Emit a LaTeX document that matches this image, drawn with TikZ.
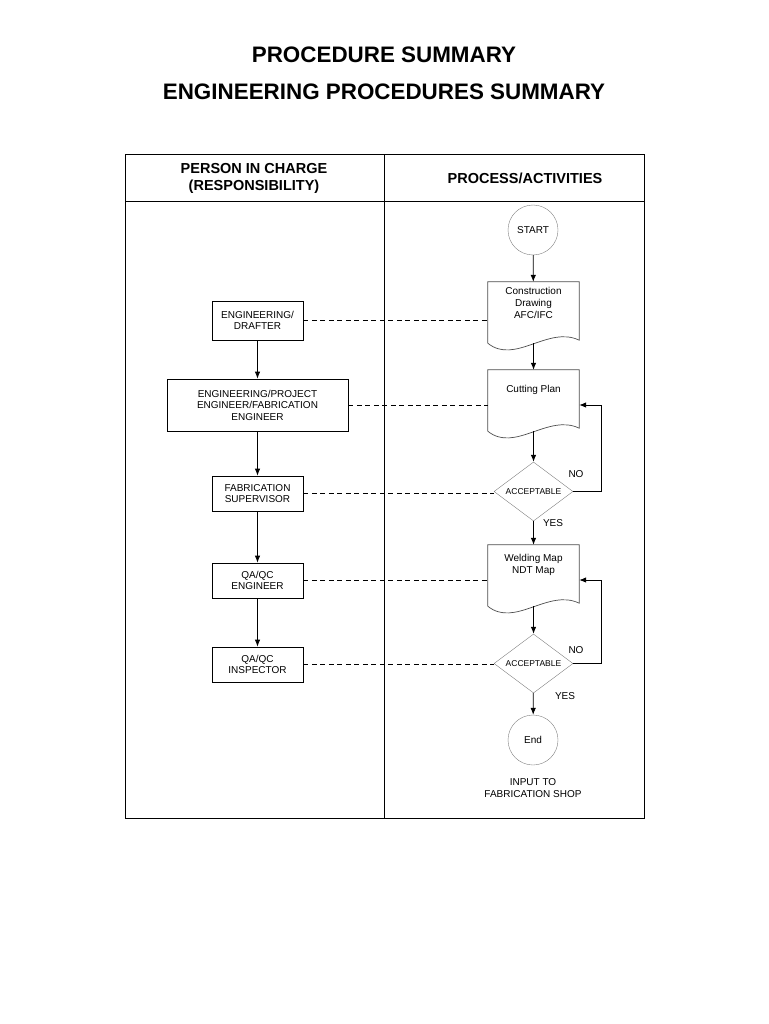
\documentclass[tikz,border=0pt]{standalone}
\usepackage{fontspec}
\setmainfont{Liberation Sans}
\usetikzlibrary{shapes.geometric,calc,arrows.meta}
\begin{document}
\begin{tikzpicture}[x=1pt,y=-1pt,>={Latex[length=7pt,width=5.5pt]},
        box/.style={draw,line width=.8pt,align=center,font=\fontsize{10}{11.5}\selectfont,minimum width=91,minimum height=35,inner sep=2pt},
        circ/.style={draw=black!50,circle,minimum size=50,inner sep=0,font=\fontsize{10}{12}\selectfont},
        docnode/.style={minimum width=91,minimum height=61,inner sep=0},
        doctext/.style={align=center,font=\fontsize{10}{12}\selectfont,inner sep=0},
        check/.style={draw=black!50,diamond,aspect=1.3,minimum width=79,minimum height=59,inner sep=0,font=\fontsize{8.5}{10}\selectfont},
        small/.style={font=\fontsize{10}{12}\selectfont,inner sep=0},
        link/.style={dash pattern=on 5pt off 3.5pt,line width=.7pt}]
        \useasboundingbox (0,0) rectangle (768,1024);

        \node[font=\bfseries\fontsize{22.4}{27}\selectfont] (title1) at (384,55) {PROCEDURE SUMMARY};
        \node[font=\bfseries\fontsize{22.4}{27}\selectfont] (title2) at (384,92) {ENGINEERING PROCEDURES SUMMARY};

        \draw[line width=1pt] (125,155) rectangle (644,818);
        \draw[line width=1pt] (125,202) -- (644,202) (384,155) -- (384,818);
        \node[align=center,font=\bfseries\fontsize{14.5}{17}\selectfont] (hperson) at (254,178) {PERSON IN CHARGE\\(RESPONSIBILITY)};
        \node[font=\bfseries\fontsize{14.5}{17}\selectfont] (hprocess) at (525,178) {PROCESS/ACTIVITIES};

        % person in charge
        \node[box,minimum height=39] (drafter) at (257.5,320.5) {ENGINEERING/\\DRAFTER};
        \node[box,minimum width=181,minimum height=52] (projeng) at (257.5,405) {ENGINEERING/PROJECT\\ENGINEER/FABRICATION\\ENGINEER};
        \node[box] (supervisor) at (257.5,493.5) {FABRICATION\\SUPERVISOR};
        \node[box] (qaeng) at (257.5,580.5) {QA/QC\\ENGINEER};
        \node[box] (qainsp) at (257.5,664.5) {QA/QC\\INSPECTOR};
        \foreach \a/\b in {drafter/projeng,projeng/supervisor,supervisor/qaeng,qaeng/qainsp}
            \draw[->,line width=.8pt] (\a) -- (\b);

        % process
        \node[circ] (start) at (533,230) {START};
        \node[docnode] (cdraw) at (533.5,312.5) {};
        \node[docnode] (cplan) at (533.5,400.5) {};
        \node[docnode] (wmap) at (533.5,575.5) {};
        \foreach \d in {cdraw,cplan,wmap}
            \draw[black!70,line width=.7pt] (\d.south west) -- (\d.north west) -- (\d.north east) -- ($(\d.south east)+(0,-3)$)
                .. controls ($(\d.south east)+(-31,-18)$) and ($(\d.south west)+(27,22)$) .. (\d.south west);
        \node[doctext] (cdrawt) at (533.5,303) {Construction\\Drawing\\AFC/IFC};
        \node[doctext] (cplant) at (533.5,390) {Cutting Plan};
        \node[doctext] (wmapt) at (533.5,564.5) {Welding Map\\NDT Map};
        \node[check] (acc1) at (533.5,491.5) {ACCEPTABLE};
        \node[check] (acc2) at (533.5,663.5) {ACCEPTABLE};
        \node[circ] (end) at (533,740) {End};
        \node[doctext] (output) at (533,788) {INPUT TO\\FABRICATION SHOP};
        \node[small] (no1) at (576,474) {NO};
        \node[small] (yes1) at (553,523) {YES};
        \node[small] (no2) at (576,650) {NO};
        \node[small] (yes2) at (565,696) {YES};

        \foreach \a/\b in {start/cdraw,cdraw/cplan,cplan/acc1,acc1/wmap,wmap/acc2,acc2/end}
            \draw[->,line width=.8pt] (\a) -- (\b);
        \draw[->,line width=.8pt] (acc1.east) -- ++(28.5,0) |- ([yshift=-4.5pt]cplan.east);
        \draw[->,line width=.8pt] (acc2.east) -- ++(28.5,0) |- ([yshift=-4.5pt]wmap.east);

        % who does what
        \draw[link] (drafter.east) -- (drafter.east -| cdraw.west);
        \draw[link] (projeng.east) -- (projeng.east -| cplan.west);
        \draw[link] (supervisor.east) -- (supervisor.east -| acc1.west);
        \draw[link] (qaeng.east) -- (qaeng.east -| wmap.west);
        \draw[link] (qainsp.east) -- (qainsp.east -| acc2.west);
    \end{tikzpicture}
\end{document}
